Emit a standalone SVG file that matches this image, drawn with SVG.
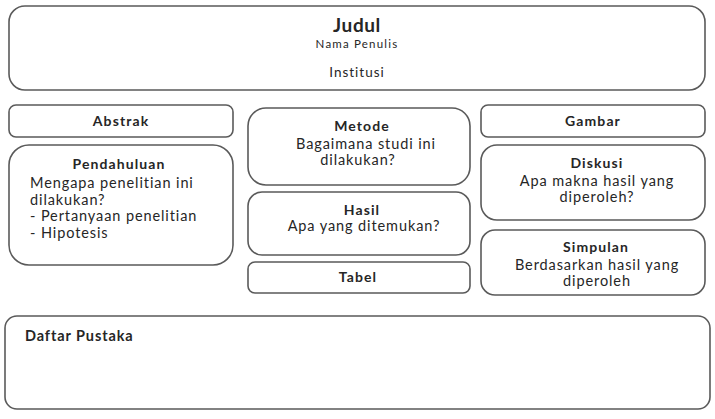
<svg xmlns="http://www.w3.org/2000/svg" width="715" height="419" viewBox="0 0 715 419">
<style>
.box{fill:#fff;stroke:#5a5a5a;stroke-width:1.6}
text{font-family:"Lato","Open Sans","Liberation Sans",sans-serif;fill:#262626}
.t{font-weight:bold;font-size:14px;letter-spacing:1.1px;text-anchor:middle}
.b{font-size:14.5px;letter-spacing:0.9px}
.c{text-anchor:middle}
</style>
<rect width="715" height="419" fill="#fff"/>
<g id="judul">
<rect class="box" x="9" y="6" width="696" height="84" rx="16"/>
<text x="357" y="32" text-anchor="middle" font-weight="bold" font-size="19" letter-spacing="0.6">Judul</text>
<text x="357" y="48" text-anchor="middle" font-size="11.5" letter-spacing="1.2">Nama Penulis</text>
<text x="357" y="77" text-anchor="middle" font-size="13.5" letter-spacing="1">Institusi</text>
</g>
<g id="abstrak">
<rect class="box" x="9" y="105" width="224" height="32" rx="7"/>
<text class="t" x="121" y="126">Abstrak</text>
</g>
<g id="pendahuluan">
<rect class="box" x="9" y="145" width="224" height="120" rx="20"/>
<text class="t" x="119" y="169">Pendahuluan</text>
<text class="b" x="30" y="188">Mengapa penelitian ini</text>
<text class="b" x="30" y="205">dilakukan?</text>
<text class="b" x="30" y="221">- Pertanyaan penelitian</text>
<text class="b" x="30" y="238">- Hipotesis</text>
</g>
<g id="metode">
<rect class="box" x="248" y="108" width="222" height="77" rx="18"/>
<text class="t" x="362" y="131">Metode</text>
<text class="b c" x="366" y="149">Bagaimana  studi ini</text>
<text class="b c" x="358" y="165">dilakukan?</text>
</g>
<g id="hasil">
<rect class="box" x="248" y="192" width="222" height="63" rx="14"/>
<text class="t" x="362" y="215">Hasil</text>
<text class="b c" x="364" y="231">Apa yang ditemukan?</text>
</g>
<g id="tabel">
<rect class="box" x="248" y="262" width="222" height="31" rx="7"/>
<text class="t" x="358" y="282">Tabel</text>
</g>
<g id="gambar">
<rect class="box" x="481" y="105" width="224" height="32" rx="7"/>
<text class="t" x="593" y="126">Gambar</text>
</g>
<g id="diskusi">
<rect class="box" x="481" y="145" width="224" height="75" rx="16"/>
<text class="t" x="597" y="168">Diskusi</text>
<text class="b c" x="597" y="186">Apa makna hasil yang</text>
<text class="b c" x="597" y="202">diperoleh?</text>
</g>
<g id="simpulan">
<rect class="box" x="481" y="230" width="224" height="65" rx="14"/>
<text class="t" x="596" y="252">Simpulan</text>
<text class="b c" x="597" y="270">Berdasarkan hasil yang</text>
<text class="b c" x="597" y="286">diperoleh</text>
</g>
<g id="daftar-pustaka">
<rect class="box" x="5" y="316" width="705" height="93" rx="12"/>
<text x="25" y="341" font-weight="bold" font-size="14.5" font-family="'Liberation Sans',sans-serif" letter-spacing="0.9">Daftar Pustaka</text>
</g>
<g id="connectors"></g>
</svg>
